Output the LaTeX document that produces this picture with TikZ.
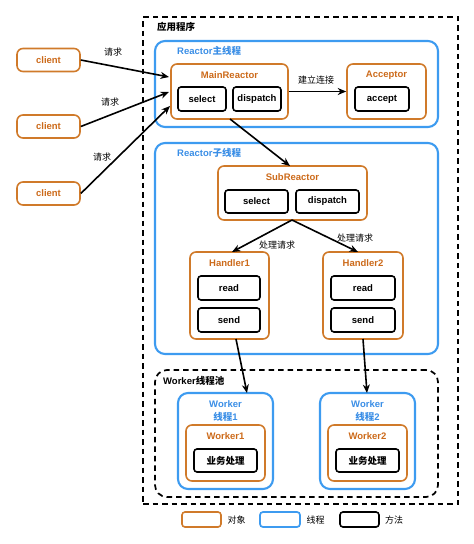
\documentclass[tikz,border=0pt]{standalone}
\usepackage{fontspec}
\setmainfont{Liberation Sans}
\newfontfamily\cjk{Noto Sans CJK SC}
\usetikzlibrary{arrows.meta}
\definecolor{objc}{HTML}{D07A2A}
\definecolor{objt}{HTML}{CC6A1A}
\definecolor{thrc}{HTML}{3D9BF0}
\definecolor{thrt}{HTML}{3A8EE6}
\newcommand\zh[1]{{\cjk #1}}
\begin{document}
\begin{tikzpicture}[x=1pt,y=-1pt,
  font=\fontsize{9.5}{11}\selectfont\bfseries,
  objbox/.style={draw=objc, line width=1.6pt, rounded corners=6pt, inner sep=0pt},
  thrbox/.style={draw=thrc, line width=2.1pt, rounded corners=10pt, inner sep=0pt},
  methbox/.style={draw=black, line width=1.6pt, rounded corners=3pt, inner sep=0pt, fill=white},
  objtxt/.style={text=objt, inner sep=0pt},
  thrtxt/.style={text=thrt, inner sep=0pt},
  lbl/.style={font=\fontsize{9}{10}\selectfont\cjk, inner sep=0pt},
  arr/.style={line width=1.6pt, -{Stealth[length=8.5pt,width=7pt]}},
  dashbox/.style={draw=black, line width=1.7pt, dash pattern=on 5.5pt off 4pt, inner sep=0pt}
]
\useasboundingbox (0,0) rectangle (474,544);

% outer application box
\node[dashbox, minimum width=315pt, minimum height=487pt] (app) at (300.5,260.5) {};
\node[anchor=west, inner sep=0pt] (applbl) at (157,27) {\zh{\bfseries 应用程序}};

% Reactor main thread
\node[thrbox, minimum width=283pt, minimum height=86pt] (mainthr) at (296.5,84) {};
\node[thrtxt, anchor=west] (mainthrlbl) at (177,51) {Reactor\zh{\bfseries 主线程}};

\node[objbox, minimum width=117pt, minimum height=55pt] (mr) at (229.5,91.5) {};
\node[objtxt] (mrt) at (229.5,75) {MainReactor};
\node[methbox, minimum width=48pt, minimum height=24pt] (sel1) at (202,99) {select};
\node[methbox, minimum width=48pt, minimum height=24pt] (dis1) at (257,99) {dispatch};

\node[objbox, minimum width=79pt, minimum height=55pt] (acc) at (386.5,91.5) {};
\node[objtxt] (acct) at (386.5,75) {Acceptor};
\node[methbox, minimum width=54pt, minimum height=24pt] (accept) at (382,99) {accept};

\draw[arr] (mr.east) -- (acc.west);
\node[lbl] (l0) at (316,80) {建立连接};

% clients
\node[objbox, minimum width=63pt, minimum height=23pt, text=objt] (c1) at (48.5,60) {client};
\node[objbox, minimum width=63pt, minimum height=23pt, text=objt] (c2) at (48.5,126.5) {client};
\node[objbox, minimum width=63pt, minimum height=23pt, text=objt] (c3) at (48.5,193.5) {client};
\coordinate (t1) at (169,77);
\coordinate (t2) at (169,92);
\coordinate (t3) at (170,106);
\draw[arr] (c1.east) -- (t1);
\draw[arr] (c2.east) -- (t2);
\draw[arr] (c3.east) -- (t3);
\node[lbl] (l1) at (113,52) {请求};
\node[lbl] (l2) at (110,102) {请求};
\node[lbl] (l3) at (102,157) {请求};

% Reactor sub thread
\node[thrbox, minimum width=283pt, minimum height=211pt] (subthr) at (296.5,248.5) {};
\node[thrtxt, anchor=west] (subthrlbl) at (177,153) {Reactor\zh{\bfseries 子线程}};

\node[objbox, minimum width=149pt, minimum height=54pt] (sr) at (292.5,193) {};
\node[objtxt] (srt) at (292.5,177) {SubReactor};
\node[methbox, minimum width=63pt, minimum height=23pt] (sel2) at (256.5,201.5) {select};
\node[methbox, minimum width=63pt, minimum height=23pt] (dis2) at (327.5,201.5) {dispatch};

\coordinate (mrout) at (230,119);
\coordinate (srin) at (290,166);
\draw[arr] (mrout) -- (srin);

% handlers
\node[objbox, minimum width=79pt, minimum height=87pt] (h1) at (229.5,295.5) {};
\node[objtxt] (h1t) at (229.5,263) {Handler1};
\node[methbox, minimum width=62pt, minimum height=24pt] (r1) at (229,288) {read};
\node[methbox, minimum width=62pt, minimum height=24pt] (s1) at (229,320) {send};

\node[objbox, minimum width=80pt, minimum height=87pt] (h2) at (363,295.5) {};
\node[objtxt] (h2t) at (363,263) {Handler2};
\node[methbox, minimum width=64pt, minimum height=24pt] (r2) at (363,288) {read};
\node[methbox, minimum width=64pt, minimum height=24pt] (s2) at (363,320) {send};

\coordinate (srout) at (292,220);
\coordinate (h1in) at (232,252);
\coordinate (h2in) at (358,252);
\draw[arr] (srout) -- (h1in);
\draw[arr] (srout) -- (h2in);
\node[lbl] (l4) at (277,245) {处理请求};
\node[lbl] (l5) at (355,238) {处理请求};

% worker pool
\node[dashbox, rounded corners=12pt, minimum width=283pt, minimum height=127pt] (pool) at (296.5,433.5) {};
\node[anchor=west, inner sep=0pt] (poollbl) at (163,381) {Worker\zh{\bfseries 线程池}};

\node[thrbox, minimum width=95pt, minimum height=96pt] (wt1) at (225.5,441) {};
\node[thrtxt] (wt1a) at (225.5,404.5) {Worker};
\node[thrtxt] (wt1b) at (225.5,416.5) {\zh{\bfseries 线程}1};
\node[objbox, minimum width=79pt, minimum height=56pt] (w1) at (225.5,453) {};
\node[objtxt] (w1t) at (225.5,436) {Worker1};
\node[methbox, minimum width=63pt, minimum height=23pt] (b1) at (225.5,460.5) {\zh{\bfseries 业务处理}};

\node[thrbox, minimum width=95pt, minimum height=96pt] (wt2) at (367.5,441) {};
\node[thrtxt] (wt2a) at (367.5,404.5) {Worker};
\node[thrtxt] (wt2b) at (367.5,416.5) {\zh{\bfseries 线程}2};
\node[objbox, minimum width=79pt, minimum height=56pt] (w2) at (367.5,453) {};
\node[objtxt] (w2t) at (367.5,436) {Worker2};
\node[methbox, minimum width=63pt, minimum height=23pt] (b2) at (367.5,460.5) {\zh{\bfseries 业务处理}};

\coordinate (h1out) at (236,339);
\coordinate (h2out) at (363,339);
\coordinate (wt1in) at (247,393);
\coordinate (wt2in) at (367,393);
\draw[arr] (h1out) -- (wt1in);
\draw[arr] (h2out) -- (wt2in);

% legend
\node[objbox, rounded corners=3pt, minimum width=39pt, minimum height=15pt] (lg1) at (201.5,519.5) {};
\node[lbl] (lg1t) at (236.5,520) {对象};
\node[thrbox, line width=1.7pt, rounded corners=3pt, minimum width=40pt, minimum height=15pt] (lg2) at (280,519.5) {};
\node[lbl] (lg2t) at (315.5,520) {线程};
\node[methbox, rounded corners=3pt, minimum width=39pt, minimum height=15pt] (lg3) at (359.5,519.5) {};
\node[lbl] (lg3t) at (394,520) {方法};
\end{tikzpicture}
\end{document}
